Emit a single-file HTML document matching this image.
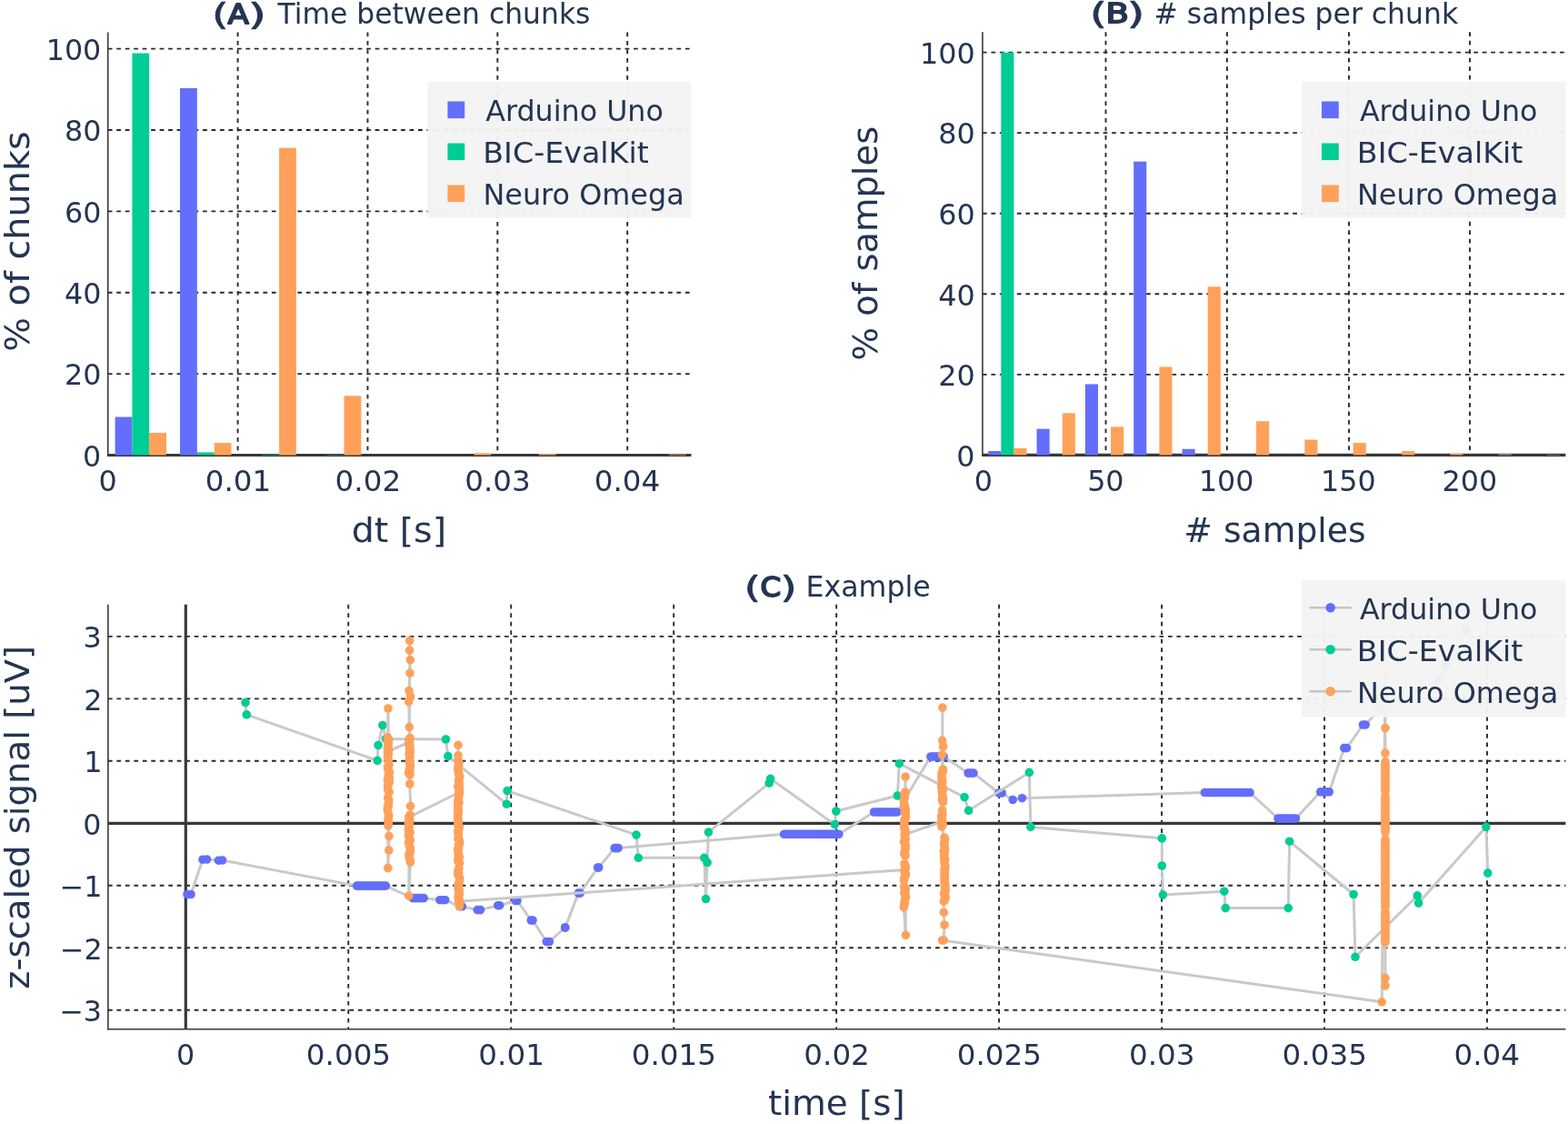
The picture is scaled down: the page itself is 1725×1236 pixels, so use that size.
<!DOCTYPE html>
<html><head><meta charset="utf-8"><title>Figure</title>
<style>html,body{margin:0;padding:0;background:#fff;overflow:hidden}svg{display:block}</style></head>
<body><svg width="1725" height="1236" viewBox="0 0 1725 1236"><defs><clipPath id="clipC"><rect x="118.9" y="664.8" width="1603.5" height="466.9000000000001"/></clipPath></defs>
<rect width="1725" height="1236" fill="#fff"/>
<line x1="261.61" y1="35.50" x2="261.61" y2="500.50" stroke="#2a2a2a" stroke-width="1.9" stroke-dasharray="4.74 4.74"/>
<line x1="404.47" y1="35.50" x2="404.47" y2="500.50" stroke="#2a2a2a" stroke-width="1.9" stroke-dasharray="4.74 4.74"/>
<line x1="547.33" y1="35.50" x2="547.33" y2="500.50" stroke="#2a2a2a" stroke-width="1.9" stroke-dasharray="4.74 4.74"/>
<line x1="690.19" y1="35.50" x2="690.19" y2="500.50" stroke="#2a2a2a" stroke-width="1.9" stroke-dasharray="4.74 4.74"/>
<line x1="118.75" y1="411.12" x2="760.50" y2="411.12" stroke="#2a2a2a" stroke-width="1.9" stroke-dasharray="4.74 4.74"/>
<line x1="118.75" y1="321.74" x2="760.50" y2="321.74" stroke="#2a2a2a" stroke-width="1.9" stroke-dasharray="4.74 4.74"/>
<line x1="118.75" y1="232.36" x2="760.50" y2="232.36" stroke="#2a2a2a" stroke-width="1.9" stroke-dasharray="4.74 4.74"/>
<line x1="118.75" y1="142.98" x2="760.50" y2="142.98" stroke="#2a2a2a" stroke-width="1.9" stroke-dasharray="4.74 4.74"/>
<line x1="118.75" y1="53.60" x2="760.50" y2="53.60" stroke="#2a2a2a" stroke-width="1.9" stroke-dasharray="4.74 4.74"/>
<line x1="118.75" y1="500.50" x2="760.50" y2="500.50" stroke="#383838" stroke-width="3.2"/>
<rect x="126.60" y="458.49" width="18.80" height="42.01" fill="#636efa" />
<rect x="145.40" y="58.52" width="18.80" height="441.98" fill="#00cc96" />
<rect x="164.20" y="475.92" width="18.80" height="24.58" fill="#ffa15a" />
<rect x="198.05" y="96.95" width="18.80" height="403.55" fill="#636efa" />
<rect x="216.85" y="497.37" width="18.80" height="3.13" fill="#00cc96" />
<rect x="235.65" y="487.09" width="18.80" height="13.41" fill="#ffa15a" />
<rect x="288.30" y="499.83" width="18.80" height="0.67" fill="#00cc96" />
<rect x="307.10" y="162.64" width="18.80" height="337.86" fill="#ffa15a" />
<rect x="359.75" y="500.05" width="18.80" height="0.45" fill="#00cc96" />
<rect x="378.55" y="435.25" width="18.80" height="65.25" fill="#ffa15a" />
<rect x="521.45" y="498.27" width="18.80" height="2.23" fill="#ffa15a" />
<rect x="592.90" y="499.16" width="18.80" height="1.34" fill="#ffa15a" />
<rect x="735.80" y="499.61" width="18.80" height="0.89" fill="#ffa15a" />
<line x1="118.75" y1="35.50" x2="118.75" y2="502.00" stroke="#383838" stroke-width="1.6"/>
<line x1="1216.50" y1="35.30" x2="1216.50" y2="500.40" stroke="#2a2a2a" stroke-width="1.9" stroke-dasharray="4.74 4.74"/>
<line x1="1349.90" y1="35.30" x2="1349.90" y2="500.40" stroke="#2a2a2a" stroke-width="1.9" stroke-dasharray="4.74 4.74"/>
<line x1="1484.00" y1="35.30" x2="1484.00" y2="500.40" stroke="#2a2a2a" stroke-width="1.9" stroke-dasharray="4.74 4.74"/>
<line x1="1617.00" y1="35.30" x2="1617.00" y2="500.40" stroke="#2a2a2a" stroke-width="1.9" stroke-dasharray="4.74 4.74"/>
<line x1="1080.90" y1="411.84" x2="1722.40" y2="411.84" stroke="#2a2a2a" stroke-width="1.9" stroke-dasharray="4.74 4.74"/>
<line x1="1080.90" y1="323.28" x2="1722.40" y2="323.28" stroke="#2a2a2a" stroke-width="1.9" stroke-dasharray="4.74 4.74"/>
<line x1="1080.90" y1="234.72" x2="1722.40" y2="234.72" stroke="#2a2a2a" stroke-width="1.9" stroke-dasharray="4.74 4.74"/>
<line x1="1080.90" y1="146.16" x2="1722.40" y2="146.16" stroke="#2a2a2a" stroke-width="1.9" stroke-dasharray="4.74 4.74"/>
<line x1="1080.90" y1="57.60" x2="1722.40" y2="57.60" stroke="#2a2a2a" stroke-width="1.9" stroke-dasharray="4.74 4.74"/>
<line x1="1080.90" y1="500.40" x2="1722.40" y2="500.40" stroke="#383838" stroke-width="3.2"/>
<rect x="1087.20" y="495.97" width="14.10" height="4.43" fill="#636efa" />
<rect x="1101.30" y="57.60" width="14.10" height="442.80" fill="#00cc96" />
<rect x="1115.40" y="492.87" width="14.10" height="7.53" fill="#ffa15a" />
<rect x="1140.53" y="471.62" width="14.10" height="28.78" fill="#636efa" />
<rect x="1168.73" y="454.35" width="14.10" height="46.05" fill="#ffa15a" />
<rect x="1193.86" y="422.47" width="14.10" height="77.93" fill="#636efa" />
<rect x="1222.06" y="469.40" width="14.10" height="31.00" fill="#ffa15a" />
<rect x="1247.19" y="177.60" width="14.10" height="322.80" fill="#636efa" />
<rect x="1275.39" y="403.43" width="14.10" height="96.97" fill="#ffa15a" />
<rect x="1300.52" y="493.76" width="14.10" height="6.64" fill="#636efa" />
<rect x="1328.72" y="315.31" width="14.10" height="185.09" fill="#ffa15a" />
<rect x="1382.05" y="463.20" width="14.10" height="37.20" fill="#ffa15a" />
<rect x="1435.38" y="483.57" width="14.10" height="16.83" fill="#ffa15a" />
<rect x="1488.71" y="487.12" width="14.10" height="13.28" fill="#ffa15a" />
<rect x="1542.04" y="495.97" width="14.10" height="4.43" fill="#ffa15a" />
<rect x="1595.37" y="499.07" width="14.10" height="1.33" fill="#ffa15a" />
<rect x="1648.70" y="499.51" width="14.10" height="0.89" fill="#ffa15a" />
<rect x="1702.03" y="499.96" width="14.10" height="0.44" fill="#ffa15a" />
<line x1="1080.90" y1="35.30" x2="1080.90" y2="501.90" stroke="#383838" stroke-width="1.6"/>
<line x1="383.26" y1="664.80" x2="383.26" y2="1131.70" stroke="#2a2a2a" stroke-width="1.9" stroke-dasharray="4.74 4.74"/>
<line x1="562.23" y1="664.80" x2="562.23" y2="1131.70" stroke="#2a2a2a" stroke-width="1.9" stroke-dasharray="4.74 4.74"/>
<line x1="741.19" y1="664.80" x2="741.19" y2="1131.70" stroke="#2a2a2a" stroke-width="1.9" stroke-dasharray="4.74 4.74"/>
<line x1="920.15" y1="664.80" x2="920.15" y2="1131.70" stroke="#2a2a2a" stroke-width="1.9" stroke-dasharray="4.74 4.74"/>
<line x1="1099.11" y1="664.80" x2="1099.11" y2="1131.70" stroke="#2a2a2a" stroke-width="1.9" stroke-dasharray="4.74 4.74"/>
<line x1="1278.07" y1="664.80" x2="1278.07" y2="1131.70" stroke="#2a2a2a" stroke-width="1.9" stroke-dasharray="4.74 4.74"/>
<line x1="1457.04" y1="664.80" x2="1457.04" y2="1131.70" stroke="#2a2a2a" stroke-width="1.9" stroke-dasharray="4.74 4.74"/>
<line x1="1636.00" y1="664.80" x2="1636.00" y2="1131.70" stroke="#2a2a2a" stroke-width="1.9" stroke-dasharray="4.74 4.74"/>
<line x1="118.90" y1="699.86" x2="1722.40" y2="699.86" stroke="#2a2a2a" stroke-width="1.9" stroke-dasharray="4.74 4.74"/>
<line x1="118.90" y1="768.34" x2="1722.40" y2="768.34" stroke="#2a2a2a" stroke-width="1.9" stroke-dasharray="4.74 4.74"/>
<line x1="118.90" y1="836.82" x2="1722.40" y2="836.82" stroke="#2a2a2a" stroke-width="1.9" stroke-dasharray="4.74 4.74"/>
<line x1="118.90" y1="973.78" x2="1722.40" y2="973.78" stroke="#2a2a2a" stroke-width="1.9" stroke-dasharray="4.74 4.74"/>
<line x1="118.90" y1="1042.26" x2="1722.40" y2="1042.26" stroke="#2a2a2a" stroke-width="1.9" stroke-dasharray="4.74 4.74"/>
<line x1="118.90" y1="1110.74" x2="1722.40" y2="1110.74" stroke="#2a2a2a" stroke-width="1.9" stroke-dasharray="4.74 4.74"/>
<line x1="204.30" y1="664.80" x2="204.30" y2="1131.70" stroke="#383838" stroke-width="3.2"/>
<line x1="118.90" y1="905.30" x2="1722.40" y2="905.30" stroke="#383838" stroke-width="3.2"/>
<g clip-path="url(#clipC)"><path d="M206.0,983.5 L210.0,983.5 L223.0,945.2 L227.5,945.0 L240.5,946.2 L244.5,946.0 L392.5,974.1 L395.0,974.1 L397.4,974.1 L399.9,974.1 L402.3,974.1 L404.8,974.1 L407.2,974.1 L409.7,974.1 L412.1,974.1 L414.6,974.1 L417.0,974.1 L419.5,974.1 L421.9,974.1 L424.4,974.1 L454.0,987.6 L456.4,987.6 L458.9,987.6 L461.3,987.6 L463.8,987.6 L466.2,987.6 L483.9,989.7 L486.8,989.7 L489.7,989.7 L505.8,996.8 L508.3,996.8 L525.2,1000.6 L528.5,1000.6 L547.8,995.7 L549.6,995.7 L567.3,990.5 L569.0,990.5 L584.3,1012.0 L586.0,1012.0 L601.3,1035.5 L604.3,1035.5 L621.7,1020.0 L621.8,1020.0 L636.3,982.1 L638.3,982.1 L657.6,954.0 L658.7,954.0 L676.1,932.6 L678.1,932.6 L680.1,932.6 L862.5,917.3 L865.0,917.3 L867.5,917.3 L870.0,917.3 L872.5,917.3 L875.1,917.3 L877.6,917.3 L880.1,917.3 L882.6,917.3 L885.1,917.3 L887.6,917.3 L890.1,917.3 L892.7,917.3 L895.2,917.3 L897.7,917.3 L900.2,917.3 L902.7,917.3 L905.2,917.3 L907.7,917.3 L910.2,917.3 L912.8,917.3 L915.3,917.3 L917.8,917.3 L920.3,917.3 L922.8,917.3 L961.5,893.0 L964.0,893.0 L966.6,893.0 L969.1,893.0 L971.7,893.0 L974.2,893.0 L976.7,893.0 L979.3,893.0 L981.8,893.0 L984.4,893.0 L986.9,893.0 L1023.9,832.0 L1026.3,832.0 L1028.6,832.0 L1031.0,832.0 L1033.4,832.0 L1035.7,832.0 L1038.1,832.0 L1065.1,850.1 L1068.0,850.1 L1071.0,850.1 L1098.8,872.0 L1102.2,872.0 L1114.2,879.5 L1124.4,877.7 L1325.4,871.5 L1327.9,871.5 L1330.4,871.5 L1332.8,871.5 L1335.3,871.5 L1337.8,871.5 L1340.3,871.5 L1342.8,871.5 L1345.2,871.5 L1347.7,871.5 L1350.2,871.5 L1352.7,871.5 L1355.2,871.5 L1357.6,871.5 L1360.1,871.5 L1362.6,871.5 L1365.1,871.5 L1367.6,871.5 L1370.0,871.5 L1372.5,871.5 L1375.0,871.5 L1406.0,900.0 L1408.4,900.0 L1410.9,900.0 L1413.3,900.0 L1415.8,900.0 L1418.2,900.0 L1420.6,900.0 L1423.1,900.0 L1425.5,900.0 L1452.7,870.8 L1455.1,870.8 L1457.5,870.8 L1459.9,870.8 L1462.3,870.8 L1478.8,822.6 L1481.6,822.6 L1499.4,797.0 L1502.2,797.0 L1517.8,779.5 L1521.2,779.5 L1583.0,747.0 L1591.0,731.0 L1612.5,693.0" fill="none" stroke="#c9c9c9" stroke-width="3.0" stroke-linejoin="round"/><g fill="#636efa"><circle cx="206.0" cy="983.5" r="4.8"/><circle cx="210.0" cy="983.5" r="4.8"/><circle cx="223.0" cy="945.2" r="4.8"/><circle cx="227.5" cy="945.0" r="4.8"/><circle cx="240.5" cy="946.2" r="4.8"/><circle cx="244.5" cy="946.0" r="4.8"/><circle cx="392.5" cy="974.1" r="4.8"/><circle cx="395.0" cy="974.1" r="4.8"/><circle cx="397.4" cy="974.1" r="4.8"/><circle cx="399.9" cy="974.1" r="4.8"/><circle cx="402.3" cy="974.1" r="4.8"/><circle cx="404.8" cy="974.1" r="4.8"/><circle cx="407.2" cy="974.1" r="4.8"/><circle cx="409.7" cy="974.1" r="4.8"/><circle cx="412.1" cy="974.1" r="4.8"/><circle cx="414.6" cy="974.1" r="4.8"/><circle cx="417.0" cy="974.1" r="4.8"/><circle cx="419.5" cy="974.1" r="4.8"/><circle cx="421.9" cy="974.1" r="4.8"/><circle cx="424.4" cy="974.1" r="4.8"/><circle cx="454.0" cy="987.6" r="4.8"/><circle cx="456.4" cy="987.6" r="4.8"/><circle cx="458.9" cy="987.6" r="4.8"/><circle cx="461.3" cy="987.6" r="4.8"/><circle cx="463.8" cy="987.6" r="4.8"/><circle cx="466.2" cy="987.6" r="4.8"/><circle cx="483.9" cy="989.7" r="4.8"/><circle cx="486.8" cy="989.7" r="4.8"/><circle cx="489.7" cy="989.7" r="4.8"/><circle cx="505.8" cy="996.8" r="4.8"/><circle cx="508.3" cy="996.8" r="4.8"/><circle cx="525.2" cy="1000.6" r="4.8"/><circle cx="528.5" cy="1000.6" r="4.8"/><circle cx="547.8" cy="995.7" r="4.8"/><circle cx="549.6" cy="995.7" r="4.8"/><circle cx="567.3" cy="990.5" r="4.8"/><circle cx="569.0" cy="990.5" r="4.8"/><circle cx="584.3" cy="1012.0" r="4.8"/><circle cx="586.0" cy="1012.0" r="4.8"/><circle cx="601.3" cy="1035.5" r="4.8"/><circle cx="604.3" cy="1035.5" r="4.8"/><circle cx="621.7" cy="1020.0" r="4.8"/><circle cx="621.8" cy="1020.0" r="4.8"/><circle cx="636.3" cy="982.1" r="4.8"/><circle cx="638.3" cy="982.1" r="4.8"/><circle cx="657.6" cy="954.0" r="4.8"/><circle cx="658.7" cy="954.0" r="4.8"/><circle cx="676.1" cy="932.6" r="4.8"/><circle cx="678.1" cy="932.6" r="4.8"/><circle cx="680.1" cy="932.6" r="4.8"/><circle cx="862.5" cy="917.3" r="4.8"/><circle cx="865.0" cy="917.3" r="4.8"/><circle cx="867.5" cy="917.3" r="4.8"/><circle cx="870.0" cy="917.3" r="4.8"/><circle cx="872.5" cy="917.3" r="4.8"/><circle cx="875.1" cy="917.3" r="4.8"/><circle cx="877.6" cy="917.3" r="4.8"/><circle cx="880.1" cy="917.3" r="4.8"/><circle cx="882.6" cy="917.3" r="4.8"/><circle cx="885.1" cy="917.3" r="4.8"/><circle cx="887.6" cy="917.3" r="4.8"/><circle cx="890.1" cy="917.3" r="4.8"/><circle cx="892.7" cy="917.3" r="4.8"/><circle cx="895.2" cy="917.3" r="4.8"/><circle cx="897.7" cy="917.3" r="4.8"/><circle cx="900.2" cy="917.3" r="4.8"/><circle cx="902.7" cy="917.3" r="4.8"/><circle cx="905.2" cy="917.3" r="4.8"/><circle cx="907.7" cy="917.3" r="4.8"/><circle cx="910.2" cy="917.3" r="4.8"/><circle cx="912.8" cy="917.3" r="4.8"/><circle cx="915.3" cy="917.3" r="4.8"/><circle cx="917.8" cy="917.3" r="4.8"/><circle cx="920.3" cy="917.3" r="4.8"/><circle cx="922.8" cy="917.3" r="4.8"/><circle cx="961.5" cy="893.0" r="4.8"/><circle cx="964.0" cy="893.0" r="4.8"/><circle cx="966.6" cy="893.0" r="4.8"/><circle cx="969.1" cy="893.0" r="4.8"/><circle cx="971.7" cy="893.0" r="4.8"/><circle cx="974.2" cy="893.0" r="4.8"/><circle cx="976.7" cy="893.0" r="4.8"/><circle cx="979.3" cy="893.0" r="4.8"/><circle cx="981.8" cy="893.0" r="4.8"/><circle cx="984.4" cy="893.0" r="4.8"/><circle cx="986.9" cy="893.0" r="4.8"/><circle cx="1023.9" cy="832.0" r="4.8"/><circle cx="1026.3" cy="832.0" r="4.8"/><circle cx="1028.6" cy="832.0" r="4.8"/><circle cx="1031.0" cy="832.0" r="4.8"/><circle cx="1033.4" cy="832.0" r="4.8"/><circle cx="1035.7" cy="832.0" r="4.8"/><circle cx="1038.1" cy="832.0" r="4.8"/><circle cx="1065.1" cy="850.1" r="4.8"/><circle cx="1068.0" cy="850.1" r="4.8"/><circle cx="1071.0" cy="850.1" r="4.8"/><circle cx="1098.8" cy="872.0" r="4.8"/><circle cx="1102.2" cy="872.0" r="4.8"/><circle cx="1114.2" cy="879.5" r="4.8"/><circle cx="1124.4" cy="877.7" r="4.8"/><circle cx="1325.4" cy="871.5" r="4.8"/><circle cx="1327.9" cy="871.5" r="4.8"/><circle cx="1330.4" cy="871.5" r="4.8"/><circle cx="1332.8" cy="871.5" r="4.8"/><circle cx="1335.3" cy="871.5" r="4.8"/><circle cx="1337.8" cy="871.5" r="4.8"/><circle cx="1340.3" cy="871.5" r="4.8"/><circle cx="1342.8" cy="871.5" r="4.8"/><circle cx="1345.2" cy="871.5" r="4.8"/><circle cx="1347.7" cy="871.5" r="4.8"/><circle cx="1350.2" cy="871.5" r="4.8"/><circle cx="1352.7" cy="871.5" r="4.8"/><circle cx="1355.2" cy="871.5" r="4.8"/><circle cx="1357.6" cy="871.5" r="4.8"/><circle cx="1360.1" cy="871.5" r="4.8"/><circle cx="1362.6" cy="871.5" r="4.8"/><circle cx="1365.1" cy="871.5" r="4.8"/><circle cx="1367.6" cy="871.5" r="4.8"/><circle cx="1370.0" cy="871.5" r="4.8"/><circle cx="1372.5" cy="871.5" r="4.8"/><circle cx="1375.0" cy="871.5" r="4.8"/><circle cx="1406.0" cy="900.0" r="4.8"/><circle cx="1408.4" cy="900.0" r="4.8"/><circle cx="1410.9" cy="900.0" r="4.8"/><circle cx="1413.3" cy="900.0" r="4.8"/><circle cx="1415.8" cy="900.0" r="4.8"/><circle cx="1418.2" cy="900.0" r="4.8"/><circle cx="1420.6" cy="900.0" r="4.8"/><circle cx="1423.1" cy="900.0" r="4.8"/><circle cx="1425.5" cy="900.0" r="4.8"/><circle cx="1452.7" cy="870.8" r="4.8"/><circle cx="1455.1" cy="870.8" r="4.8"/><circle cx="1457.5" cy="870.8" r="4.8"/><circle cx="1459.9" cy="870.8" r="4.8"/><circle cx="1462.3" cy="870.8" r="4.8"/><circle cx="1478.8" cy="822.6" r="4.8"/><circle cx="1481.6" cy="822.6" r="4.8"/><circle cx="1499.4" cy="797.0" r="4.8"/><circle cx="1502.2" cy="797.0" r="4.8"/><circle cx="1517.8" cy="779.5" r="4.8"/><circle cx="1521.2" cy="779.5" r="4.8"/><circle cx="1583.0" cy="747.0" r="4.8"/><circle cx="1591.0" cy="731.0" r="4.8"/><circle cx="1612.5" cy="693.0" r="4.8"/></g><path d="M270.0,772.5 L271.3,785.9 L415.2,836.4 L416.1,819.5 L420.9,797.6 L424.5,812.5 L490.5,813.0 L492.9,831.6 L557.3,884.2 L558.1,869.6 L700.0,918.1 L702.3,943.3 L774.8,943.3 L776.5,988.5 L778.1,948.5 L779.4,915.1 L846.2,861.2 L847.6,856.3 L918.3,906.6 L919.8,892.0 L987.4,875.0 L989.3,839.7 L1061.0,876.6 L1065.6,891.3 L1132.3,849.4 L1133.9,909.4 L1278.3,921.9 L1278.3,952.0 L1279.4,984.1 L1346.8,980.2 L1348.2,998.6 L1417.3,998.6 L1418.6,925.2 L1489.1,983.5 L1491.0,1052.3 L1559.3,984.9 L1560.6,993.1 L1634.9,909.3 L1636.8,960.1" fill="none" stroke="#c9c9c9" stroke-width="3.0" stroke-linejoin="round"/><g fill="#00cc96"><circle cx="270.0" cy="772.5" r="4.8"/><circle cx="271.3" cy="785.9" r="4.8"/><circle cx="415.2" cy="836.4" r="4.8"/><circle cx="416.1" cy="819.5" r="4.8"/><circle cx="420.9" cy="797.6" r="4.8"/><circle cx="424.5" cy="812.5" r="4.8"/><circle cx="490.5" cy="813.0" r="4.8"/><circle cx="492.9" cy="831.6" r="4.8"/><circle cx="557.3" cy="884.2" r="4.8"/><circle cx="558.1" cy="869.6" r="4.8"/><circle cx="700.0" cy="918.1" r="4.8"/><circle cx="702.3" cy="943.3" r="4.8"/><circle cx="774.8" cy="943.3" r="4.8"/><circle cx="776.5" cy="988.5" r="4.8"/><circle cx="778.1" cy="948.5" r="4.8"/><circle cx="779.4" cy="915.1" r="4.8"/><circle cx="846.2" cy="861.2" r="4.8"/><circle cx="847.6" cy="856.3" r="4.8"/><circle cx="918.3" cy="906.6" r="4.8"/><circle cx="919.8" cy="892.0" r="4.8"/><circle cx="987.4" cy="875.0" r="4.8"/><circle cx="989.3" cy="839.7" r="4.8"/><circle cx="1061.0" cy="876.6" r="4.8"/><circle cx="1065.6" cy="891.3" r="4.8"/><circle cx="1132.3" cy="849.4" r="4.8"/><circle cx="1133.9" cy="909.4" r="4.8"/><circle cx="1278.3" cy="921.9" r="4.8"/><circle cx="1278.3" cy="952.0" r="4.8"/><circle cx="1279.4" cy="984.1" r="4.8"/><circle cx="1346.8" cy="980.2" r="4.8"/><circle cx="1348.2" cy="998.6" r="4.8"/><circle cx="1417.3" cy="998.6" r="4.8"/><circle cx="1418.6" cy="925.2" r="4.8"/><circle cx="1489.1" cy="983.5" r="4.8"/><circle cx="1491.0" cy="1052.3" r="4.8"/><circle cx="1559.3" cy="984.9" r="4.8"/><circle cx="1560.6" cy="993.1" r="4.8"/><circle cx="1634.9" cy="909.3" r="4.8"/><circle cx="1636.8" cy="960.1" r="4.8"/></g><path d="M427.4,826.0 L427.0,779.0 L426.6,811.0 L427.7,813.3 L426.5,815.5 L427.5,817.8 L427.1,820.1 L426.4,822.4 L427.4,824.6 L426.4,826.9 L427.3,829.2 L426.5,831.5 L426.5,833.7 L427.2,836.0 L428.1,841.0 L426.6,843.1 L426.8,845.3 L427.7,847.4 L428.4,849.6 L427.6,851.7 L427.2,853.9 L428.4,856.0 L426.4,858.1 L428.2,860.3 L426.9,862.4 L426.6,864.6 L426.6,866.7 L427.0,868.9 L428.1,871.0 L426.7,877.0 L427.6,879.3 L427.7,881.6 L427.1,883.9 L427.5,886.1 L426.4,888.4 L426.4,890.7 L426.8,893.0 L427.8,897.0 L427.2,899.2 L427.0,901.4 L427.6,903.6 L427.3,905.8 L427.0,908.0 L428.0,919.6 L427.8,935.0 L426.8,954.5 L427.4,826.0 L450.5,816.0 L450.7,704.6 L450.6,715.1 L451.3,725.6 L451.0,740.2 L450.0,759.6 L451.6,766.0 L449.7,771.7 L450.3,799.5 L451.1,811.5 L449.7,813.8 L450.5,816.0 L449.5,818.2 L450.9,820.5 L451.1,822.8 L450.7,825.0 L451.3,827.2 L450.1,829.5 L450.9,831.8 L450.7,834.0 L450.7,836.2 L450.4,838.5 L451.2,840.8 L451.5,843.0 L450.4,845.2 L450.9,847.5 L449.5,849.8 L450.9,852.0 L450.8,862.0 L451.6,886.5 L451.2,896.0 L450.0,898.2 L450.2,900.3 L450.9,902.5 L449.4,904.7 L450.4,906.8 L449.8,909.0 L449.7,911.2 L449.5,913.3 L451.1,915.5 L449.7,917.7 L449.9,919.8 L450.3,922.0 L451.3,924.2 L449.6,926.3 L450.4,928.5 L450.6,930.7 L451.3,932.8 L451.2,935.0 L451.3,937.2 L450.0,939.3 L450.3,941.5 L450.2,943.7 L451.3,945.8 L451.5,948.0 L449.7,985.2 L450.5,898.4 L504.7,871.5 L504.0,819.4 L504.1,830.8 L504.1,836.0 L504.7,838.2 L504.9,840.4 L504.2,842.6 L503.6,844.9 L504.5,847.1 L504.4,849.3 L504.8,851.5 L505.7,853.7 L505.1,855.9 L504.7,858.2 L505.0,860.4 L505.1,862.6 L503.7,864.8 L505.6,867.0 L505.3,869.2 L505.5,871.5 L505.4,873.7 L504.5,875.9 L504.5,878.1 L503.8,880.3 L505.0,882.5 L503.7,884.7 L503.7,887.0 L504.1,889.2 L504.0,891.4 L504.3,893.6 L503.7,895.8 L503.6,898.0 L503.9,900.3 L503.8,902.5 L504.4,904.7 L503.7,906.9 L505.5,909.1 L505.0,911.3 L503.9,913.5 L504.2,915.8 L504.4,918.0 L504.4,920.2 L503.9,922.4 L505.5,924.6 L505.8,926.8 L504.6,929.1 L504.7,931.3 L503.8,933.5 L503.8,935.7 L504.4,937.9 L504.2,940.1 L505.4,942.4 L504.0,944.6 L503.7,946.8 L505.7,949.0 L504.8,955.0 L503.9,957.2 L504.8,959.4 L503.7,961.6 L504.8,963.7 L505.8,965.9 L505.5,968.1 L505.1,970.3 L504.2,972.5 L504.4,974.7 L504.0,976.8 L505.3,979.0 L504.8,981.2 L505.3,983.4 L504.3,985.6 L504.1,987.8 L505.4,989.9 L505.8,992.1 L505.5,994.3 L505.4,996.5 L504.7,991.3 L995.4,956.5 L996.1,854.0 L995.9,871.0 L994.8,873.2 L995.4,875.4 L995.1,877.6 L994.4,879.8 L994.4,881.9 L994.9,884.1 L994.9,886.3 L995.8,888.5 L996.4,890.7 L995.3,892.9 L996.4,895.1 L996.5,897.2 L996.4,899.4 L995.1,901.6 L994.8,903.8 L994.8,906.0 L994.7,908.2 L994.7,910.4 L995.7,912.6 L996.3,914.8 L996.1,916.9 L995.4,919.1 L995.7,921.3 L996.1,923.5 L994.5,925.7 L995.8,927.9 L996.3,930.1 L996.0,932.2 L996.0,934.4 L995.4,936.6 L994.7,938.8 L996.0,941.0 L995.0,950.0 L996.1,952.2 L996.4,954.5 L995.2,956.8 L995.2,959.0 L996.4,961.2 L995.9,963.5 L994.7,965.8 L994.6,968.0 L994.6,975.0 L996.3,977.3 L996.1,979.5 L994.6,981.8 L996.1,984.1 L996.5,986.4 L995.7,988.6 L995.1,990.9 L995.5,993.2 L994.6,995.4 L994.3,997.7 L996.4,1028.3 L995.4,917.7 L1036.6,903.5 L1036.9,778.1 L1036.7,814.3 L1037.6,821.0 L1036.5,830.0 L1037.4,846.0 L1037.3,848.2 L1036.0,850.5 L1036.1,852.8 L1036.1,855.0 L1036.0,857.2 L1036.8,859.5 L1036.1,861.8 L1036.4,864.0 L1035.8,866.2 L1037.5,868.5 L1036.3,870.8 L1036.5,873.0 L1036.8,875.2 L1037.5,877.5 L1036.4,879.8 L1037.5,882.0 L1036.6,891.0 L1036.7,893.2 L1036.7,895.5 L1035.5,897.8 L1036.5,900.0 L1035.9,902.2 L1035.5,904.5 L1037.3,906.8 L1035.9,909.0 L1039.0,921.0 L1039.6,923.2 L1039.2,925.4 L1038.7,927.6 L1039.1,929.8 L1039.2,931.9 L1039.7,934.1 L1038.2,936.3 L1039.2,938.5 L1038.5,940.7 L1038.6,942.9 L1039.7,945.1 L1039.1,947.2 L1039.2,949.4 L1039.7,951.6 L1040.0,953.8 L1039.0,956.0 L1039.3,958.2 L1039.1,960.4 L1039.1,962.6 L1039.5,964.8 L1039.0,966.9 L1039.2,969.1 L1039.1,971.3 L1040.1,973.5 L1039.5,975.7 L1039.9,977.9 L1040.1,980.1 L1038.6,982.2 L1039.2,984.4 L1040.1,986.6 L1039.8,988.8 L1038.3,991.0 L1038.3,1003.4 L1039.0,1017.0 L1038.2,1034.0 L1036.6,1034.0 L1520.2,1101.8 L1524.0,742.0 L1524.0,781.0 L1524.0,800.6 L1524.0,828.1 L1524.0,837.8 L1524.0,840.0 L1524.0,842.2 L1524.0,844.4 L1524.0,846.6 L1524.0,848.8 L1524.0,851.0 L1524.0,853.2 L1524.0,855.4 L1524.0,857.6 L1524.0,859.8 L1524.0,862.0 L1524.0,864.2 L1524.0,866.4 L1524.0,868.6 L1524.0,870.8 L1524.0,876.0 L1524.0,878.2 L1524.0,880.3 L1524.0,882.5 L1524.0,884.6 L1524.0,886.8 L1524.0,888.9 L1524.0,891.1 L1524.0,893.2 L1524.0,895.4 L1524.0,897.6 L1524.0,899.7 L1524.0,901.9 L1524.0,904.0 L1524.0,906.2 L1524.0,908.3 L1524.0,910.5 L1524.0,912.6 L1524.0,914.8 L1524.0,923.0 L1524.0,925.2 L1524.0,927.4 L1524.0,929.5 L1524.0,931.7 L1524.0,933.9 L1524.0,936.1 L1524.0,938.2 L1524.0,940.4 L1524.0,942.6 L1524.0,944.8 L1524.0,946.9 L1524.0,949.1 L1524.0,951.3 L1524.0,953.5 L1524.0,955.6 L1524.0,957.8 L1524.0,960.0 L1524.0,962.2 L1524.0,964.4 L1524.0,966.5 L1524.0,968.7 L1524.0,970.9 L1524.0,973.1 L1524.0,975.2 L1524.0,977.4 L1524.0,979.6 L1524.0,981.8 L1524.0,983.9 L1524.0,986.1 L1524.0,988.3 L1524.0,990.5 L1524.0,992.6 L1524.0,994.8 L1524.0,997.0 L1524.0,1002.8 L1524.0,1005.0 L1524.0,1007.2 L1524.0,1009.4 L1524.0,1011.6 L1524.0,1013.8 L1524.0,1016.0 L1524.0,1018.2 L1524.0,1020.4 L1524.0,1022.6 L1524.0,1024.8 L1524.0,1027.0 L1524.0,1029.2 L1524.0,1031.4 L1524.0,1033.6 L1524.0,1035.8 L1524.0,1075.6 L1524.0,1084.0" fill="none" stroke="#c9c9c9" stroke-width="3.0" stroke-linejoin="round"/><g fill="#ffa15a"><circle cx="427.4" cy="826.0" r="4.8"/><circle cx="427.0" cy="779.0" r="4.8"/><circle cx="426.6" cy="811.0" r="4.8"/><circle cx="427.7" cy="813.3" r="4.8"/><circle cx="426.5" cy="815.5" r="4.8"/><circle cx="427.5" cy="817.8" r="4.8"/><circle cx="427.1" cy="820.1" r="4.8"/><circle cx="426.4" cy="822.4" r="4.8"/><circle cx="427.4" cy="824.6" r="4.8"/><circle cx="426.4" cy="826.9" r="4.8"/><circle cx="427.3" cy="829.2" r="4.8"/><circle cx="426.5" cy="831.5" r="4.8"/><circle cx="426.5" cy="833.7" r="4.8"/><circle cx="427.2" cy="836.0" r="4.8"/><circle cx="428.1" cy="841.0" r="4.8"/><circle cx="426.6" cy="843.1" r="4.8"/><circle cx="426.8" cy="845.3" r="4.8"/><circle cx="427.7" cy="847.4" r="4.8"/><circle cx="428.4" cy="849.6" r="4.8"/><circle cx="427.6" cy="851.7" r="4.8"/><circle cx="427.2" cy="853.9" r="4.8"/><circle cx="428.4" cy="856.0" r="4.8"/><circle cx="426.4" cy="858.1" r="4.8"/><circle cx="428.2" cy="860.3" r="4.8"/><circle cx="426.9" cy="862.4" r="4.8"/><circle cx="426.6" cy="864.6" r="4.8"/><circle cx="426.6" cy="866.7" r="4.8"/><circle cx="427.0" cy="868.9" r="4.8"/><circle cx="428.1" cy="871.0" r="4.8"/><circle cx="426.7" cy="877.0" r="4.8"/><circle cx="427.6" cy="879.3" r="4.8"/><circle cx="427.7" cy="881.6" r="4.8"/><circle cx="427.1" cy="883.9" r="4.8"/><circle cx="427.5" cy="886.1" r="4.8"/><circle cx="426.4" cy="888.4" r="4.8"/><circle cx="426.4" cy="890.7" r="4.8"/><circle cx="426.8" cy="893.0" r="4.8"/><circle cx="427.8" cy="897.0" r="4.8"/><circle cx="427.2" cy="899.2" r="4.8"/><circle cx="427.0" cy="901.4" r="4.8"/><circle cx="427.6" cy="903.6" r="4.8"/><circle cx="427.3" cy="905.8" r="4.8"/><circle cx="427.0" cy="908.0" r="4.8"/><circle cx="428.0" cy="919.6" r="4.8"/><circle cx="427.8" cy="935.0" r="4.8"/><circle cx="426.8" cy="954.5" r="4.8"/><circle cx="427.4" cy="826.0" r="4.8"/><circle cx="450.5" cy="816.0" r="4.8"/><circle cx="450.7" cy="704.6" r="4.8"/><circle cx="450.6" cy="715.1" r="4.8"/><circle cx="451.3" cy="725.6" r="4.8"/><circle cx="451.0" cy="740.2" r="4.8"/><circle cx="450.0" cy="759.6" r="4.8"/><circle cx="451.6" cy="766.0" r="4.8"/><circle cx="449.7" cy="771.7" r="4.8"/><circle cx="450.3" cy="799.5" r="4.8"/><circle cx="451.1" cy="811.5" r="4.8"/><circle cx="449.7" cy="813.8" r="4.8"/><circle cx="450.5" cy="816.0" r="4.8"/><circle cx="449.5" cy="818.2" r="4.8"/><circle cx="450.9" cy="820.5" r="4.8"/><circle cx="451.1" cy="822.8" r="4.8"/><circle cx="450.7" cy="825.0" r="4.8"/><circle cx="451.3" cy="827.2" r="4.8"/><circle cx="450.1" cy="829.5" r="4.8"/><circle cx="450.9" cy="831.8" r="4.8"/><circle cx="450.7" cy="834.0" r="4.8"/><circle cx="450.7" cy="836.2" r="4.8"/><circle cx="450.4" cy="838.5" r="4.8"/><circle cx="451.2" cy="840.8" r="4.8"/><circle cx="451.5" cy="843.0" r="4.8"/><circle cx="450.4" cy="845.2" r="4.8"/><circle cx="450.9" cy="847.5" r="4.8"/><circle cx="449.5" cy="849.8" r="4.8"/><circle cx="450.9" cy="852.0" r="4.8"/><circle cx="450.8" cy="862.0" r="4.8"/><circle cx="451.6" cy="886.5" r="4.8"/><circle cx="451.2" cy="896.0" r="4.8"/><circle cx="450.0" cy="898.2" r="4.8"/><circle cx="450.2" cy="900.3" r="4.8"/><circle cx="450.9" cy="902.5" r="4.8"/><circle cx="449.4" cy="904.7" r="4.8"/><circle cx="450.4" cy="906.8" r="4.8"/><circle cx="449.8" cy="909.0" r="4.8"/><circle cx="449.7" cy="911.2" r="4.8"/><circle cx="449.5" cy="913.3" r="4.8"/><circle cx="451.1" cy="915.5" r="4.8"/><circle cx="449.7" cy="917.7" r="4.8"/><circle cx="449.9" cy="919.8" r="4.8"/><circle cx="450.3" cy="922.0" r="4.8"/><circle cx="451.3" cy="924.2" r="4.8"/><circle cx="449.6" cy="926.3" r="4.8"/><circle cx="450.4" cy="928.5" r="4.8"/><circle cx="450.6" cy="930.7" r="4.8"/><circle cx="451.3" cy="932.8" r="4.8"/><circle cx="451.2" cy="935.0" r="4.8"/><circle cx="451.3" cy="937.2" r="4.8"/><circle cx="450.0" cy="939.3" r="4.8"/><circle cx="450.3" cy="941.5" r="4.8"/><circle cx="450.2" cy="943.7" r="4.8"/><circle cx="451.3" cy="945.8" r="4.8"/><circle cx="451.5" cy="948.0" r="4.8"/><circle cx="449.7" cy="985.2" r="4.8"/><circle cx="450.5" cy="898.4" r="4.8"/><circle cx="504.7" cy="871.5" r="4.8"/><circle cx="504.0" cy="819.4" r="4.8"/><circle cx="504.1" cy="830.8" r="4.8"/><circle cx="504.1" cy="836.0" r="4.8"/><circle cx="504.7" cy="838.2" r="4.8"/><circle cx="504.9" cy="840.4" r="4.8"/><circle cx="504.2" cy="842.6" r="4.8"/><circle cx="503.6" cy="844.9" r="4.8"/><circle cx="504.5" cy="847.1" r="4.8"/><circle cx="504.4" cy="849.3" r="4.8"/><circle cx="504.8" cy="851.5" r="4.8"/><circle cx="505.7" cy="853.7" r="4.8"/><circle cx="505.1" cy="855.9" r="4.8"/><circle cx="504.7" cy="858.2" r="4.8"/><circle cx="505.0" cy="860.4" r="4.8"/><circle cx="505.1" cy="862.6" r="4.8"/><circle cx="503.7" cy="864.8" r="4.8"/><circle cx="505.6" cy="867.0" r="4.8"/><circle cx="505.3" cy="869.2" r="4.8"/><circle cx="505.5" cy="871.5" r="4.8"/><circle cx="505.4" cy="873.7" r="4.8"/><circle cx="504.5" cy="875.9" r="4.8"/><circle cx="504.5" cy="878.1" r="4.8"/><circle cx="503.8" cy="880.3" r="4.8"/><circle cx="505.0" cy="882.5" r="4.8"/><circle cx="503.7" cy="884.7" r="4.8"/><circle cx="503.7" cy="887.0" r="4.8"/><circle cx="504.1" cy="889.2" r="4.8"/><circle cx="504.0" cy="891.4" r="4.8"/><circle cx="504.3" cy="893.6" r="4.8"/><circle cx="503.7" cy="895.8" r="4.8"/><circle cx="503.6" cy="898.0" r="4.8"/><circle cx="503.9" cy="900.3" r="4.8"/><circle cx="503.8" cy="902.5" r="4.8"/><circle cx="504.4" cy="904.7" r="4.8"/><circle cx="503.7" cy="906.9" r="4.8"/><circle cx="505.5" cy="909.1" r="4.8"/><circle cx="505.0" cy="911.3" r="4.8"/><circle cx="503.9" cy="913.5" r="4.8"/><circle cx="504.2" cy="915.8" r="4.8"/><circle cx="504.4" cy="918.0" r="4.8"/><circle cx="504.4" cy="920.2" r="4.8"/><circle cx="503.9" cy="922.4" r="4.8"/><circle cx="505.5" cy="924.6" r="4.8"/><circle cx="505.8" cy="926.8" r="4.8"/><circle cx="504.6" cy="929.1" r="4.8"/><circle cx="504.7" cy="931.3" r="4.8"/><circle cx="503.8" cy="933.5" r="4.8"/><circle cx="503.8" cy="935.7" r="4.8"/><circle cx="504.4" cy="937.9" r="4.8"/><circle cx="504.2" cy="940.1" r="4.8"/><circle cx="505.4" cy="942.4" r="4.8"/><circle cx="504.0" cy="944.6" r="4.8"/><circle cx="503.7" cy="946.8" r="4.8"/><circle cx="505.7" cy="949.0" r="4.8"/><circle cx="504.8" cy="955.0" r="4.8"/><circle cx="503.9" cy="957.2" r="4.8"/><circle cx="504.8" cy="959.4" r="4.8"/><circle cx="503.7" cy="961.6" r="4.8"/><circle cx="504.8" cy="963.7" r="4.8"/><circle cx="505.8" cy="965.9" r="4.8"/><circle cx="505.5" cy="968.1" r="4.8"/><circle cx="505.1" cy="970.3" r="4.8"/><circle cx="504.2" cy="972.5" r="4.8"/><circle cx="504.4" cy="974.7" r="4.8"/><circle cx="504.0" cy="976.8" r="4.8"/><circle cx="505.3" cy="979.0" r="4.8"/><circle cx="504.8" cy="981.2" r="4.8"/><circle cx="505.3" cy="983.4" r="4.8"/><circle cx="504.3" cy="985.6" r="4.8"/><circle cx="504.1" cy="987.8" r="4.8"/><circle cx="505.4" cy="989.9" r="4.8"/><circle cx="505.8" cy="992.1" r="4.8"/><circle cx="505.5" cy="994.3" r="4.8"/><circle cx="505.4" cy="996.5" r="4.8"/><circle cx="504.7" cy="991.3" r="4.8"/><circle cx="995.4" cy="956.5" r="4.8"/><circle cx="996.1" cy="854.0" r="4.8"/><circle cx="995.9" cy="871.0" r="4.8"/><circle cx="994.8" cy="873.2" r="4.8"/><circle cx="995.4" cy="875.4" r="4.8"/><circle cx="995.1" cy="877.6" r="4.8"/><circle cx="994.4" cy="879.8" r="4.8"/><circle cx="994.4" cy="881.9" r="4.8"/><circle cx="994.9" cy="884.1" r="4.8"/><circle cx="994.9" cy="886.3" r="4.8"/><circle cx="995.8" cy="888.5" r="4.8"/><circle cx="996.4" cy="890.7" r="4.8"/><circle cx="995.3" cy="892.9" r="4.8"/><circle cx="996.4" cy="895.1" r="4.8"/><circle cx="996.5" cy="897.2" r="4.8"/><circle cx="996.4" cy="899.4" r="4.8"/><circle cx="995.1" cy="901.6" r="4.8"/><circle cx="994.8" cy="903.8" r="4.8"/><circle cx="994.8" cy="906.0" r="4.8"/><circle cx="994.7" cy="908.2" r="4.8"/><circle cx="994.7" cy="910.4" r="4.8"/><circle cx="995.7" cy="912.6" r="4.8"/><circle cx="996.3" cy="914.8" r="4.8"/><circle cx="996.1" cy="916.9" r="4.8"/><circle cx="995.4" cy="919.1" r="4.8"/><circle cx="995.7" cy="921.3" r="4.8"/><circle cx="996.1" cy="923.5" r="4.8"/><circle cx="994.5" cy="925.7" r="4.8"/><circle cx="995.8" cy="927.9" r="4.8"/><circle cx="996.3" cy="930.1" r="4.8"/><circle cx="996.0" cy="932.2" r="4.8"/><circle cx="996.0" cy="934.4" r="4.8"/><circle cx="995.4" cy="936.6" r="4.8"/><circle cx="994.7" cy="938.8" r="4.8"/><circle cx="996.0" cy="941.0" r="4.8"/><circle cx="995.0" cy="950.0" r="4.8"/><circle cx="996.1" cy="952.2" r="4.8"/><circle cx="996.4" cy="954.5" r="4.8"/><circle cx="995.2" cy="956.8" r="4.8"/><circle cx="995.2" cy="959.0" r="4.8"/><circle cx="996.4" cy="961.2" r="4.8"/><circle cx="995.9" cy="963.5" r="4.8"/><circle cx="994.7" cy="965.8" r="4.8"/><circle cx="994.6" cy="968.0" r="4.8"/><circle cx="994.6" cy="975.0" r="4.8"/><circle cx="996.3" cy="977.3" r="4.8"/><circle cx="996.1" cy="979.5" r="4.8"/><circle cx="994.6" cy="981.8" r="4.8"/><circle cx="996.1" cy="984.1" r="4.8"/><circle cx="996.5" cy="986.4" r="4.8"/><circle cx="995.7" cy="988.6" r="4.8"/><circle cx="995.1" cy="990.9" r="4.8"/><circle cx="995.5" cy="993.2" r="4.8"/><circle cx="994.6" cy="995.4" r="4.8"/><circle cx="994.3" cy="997.7" r="4.8"/><circle cx="996.4" cy="1028.3" r="4.8"/><circle cx="995.4" cy="917.7" r="4.8"/><circle cx="1036.6" cy="903.5" r="4.8"/><circle cx="1036.9" cy="778.1" r="4.8"/><circle cx="1036.7" cy="814.3" r="4.8"/><circle cx="1037.6" cy="821.0" r="4.8"/><circle cx="1036.5" cy="830.0" r="4.8"/><circle cx="1037.4" cy="846.0" r="4.8"/><circle cx="1037.3" cy="848.2" r="4.8"/><circle cx="1036.0" cy="850.5" r="4.8"/><circle cx="1036.1" cy="852.8" r="4.8"/><circle cx="1036.1" cy="855.0" r="4.8"/><circle cx="1036.0" cy="857.2" r="4.8"/><circle cx="1036.8" cy="859.5" r="4.8"/><circle cx="1036.1" cy="861.8" r="4.8"/><circle cx="1036.4" cy="864.0" r="4.8"/><circle cx="1035.8" cy="866.2" r="4.8"/><circle cx="1037.5" cy="868.5" r="4.8"/><circle cx="1036.3" cy="870.8" r="4.8"/><circle cx="1036.5" cy="873.0" r="4.8"/><circle cx="1036.8" cy="875.2" r="4.8"/><circle cx="1037.5" cy="877.5" r="4.8"/><circle cx="1036.4" cy="879.8" r="4.8"/><circle cx="1037.5" cy="882.0" r="4.8"/><circle cx="1036.6" cy="891.0" r="4.8"/><circle cx="1036.7" cy="893.2" r="4.8"/><circle cx="1036.7" cy="895.5" r="4.8"/><circle cx="1035.5" cy="897.8" r="4.8"/><circle cx="1036.5" cy="900.0" r="4.8"/><circle cx="1035.9" cy="902.2" r="4.8"/><circle cx="1035.5" cy="904.5" r="4.8"/><circle cx="1037.3" cy="906.8" r="4.8"/><circle cx="1035.9" cy="909.0" r="4.8"/><circle cx="1039.0" cy="921.0" r="4.8"/><circle cx="1039.6" cy="923.2" r="4.8"/><circle cx="1039.2" cy="925.4" r="4.8"/><circle cx="1038.7" cy="927.6" r="4.8"/><circle cx="1039.1" cy="929.8" r="4.8"/><circle cx="1039.2" cy="931.9" r="4.8"/><circle cx="1039.7" cy="934.1" r="4.8"/><circle cx="1038.2" cy="936.3" r="4.8"/><circle cx="1039.2" cy="938.5" r="4.8"/><circle cx="1038.5" cy="940.7" r="4.8"/><circle cx="1038.6" cy="942.9" r="4.8"/><circle cx="1039.7" cy="945.1" r="4.8"/><circle cx="1039.1" cy="947.2" r="4.8"/><circle cx="1039.2" cy="949.4" r="4.8"/><circle cx="1039.7" cy="951.6" r="4.8"/><circle cx="1040.0" cy="953.8" r="4.8"/><circle cx="1039.0" cy="956.0" r="4.8"/><circle cx="1039.3" cy="958.2" r="4.8"/><circle cx="1039.1" cy="960.4" r="4.8"/><circle cx="1039.1" cy="962.6" r="4.8"/><circle cx="1039.5" cy="964.8" r="4.8"/><circle cx="1039.0" cy="966.9" r="4.8"/><circle cx="1039.2" cy="969.1" r="4.8"/><circle cx="1039.1" cy="971.3" r="4.8"/><circle cx="1040.1" cy="973.5" r="4.8"/><circle cx="1039.5" cy="975.7" r="4.8"/><circle cx="1039.9" cy="977.9" r="4.8"/><circle cx="1040.1" cy="980.1" r="4.8"/><circle cx="1038.6" cy="982.2" r="4.8"/><circle cx="1039.2" cy="984.4" r="4.8"/><circle cx="1040.1" cy="986.6" r="4.8"/><circle cx="1039.8" cy="988.8" r="4.8"/><circle cx="1038.3" cy="991.0" r="4.8"/><circle cx="1038.3" cy="1003.4" r="4.8"/><circle cx="1039.0" cy="1017.0" r="4.8"/><circle cx="1038.2" cy="1034.0" r="4.8"/><circle cx="1036.6" cy="1034.0" r="4.8"/><circle cx="1520.2" cy="1101.8" r="4.8"/><circle cx="1524.0" cy="742.0" r="4.8"/><circle cx="1524.0" cy="781.0" r="4.8"/><circle cx="1524.0" cy="800.6" r="4.8"/><circle cx="1524.0" cy="828.1" r="4.8"/><circle cx="1524.0" cy="837.8" r="4.8"/><circle cx="1524.0" cy="840.0" r="4.8"/><circle cx="1524.0" cy="842.2" r="4.8"/><circle cx="1524.0" cy="844.4" r="4.8"/><circle cx="1524.0" cy="846.6" r="4.8"/><circle cx="1524.0" cy="848.8" r="4.8"/><circle cx="1524.0" cy="851.0" r="4.8"/><circle cx="1524.0" cy="853.2" r="4.8"/><circle cx="1524.0" cy="855.4" r="4.8"/><circle cx="1524.0" cy="857.6" r="4.8"/><circle cx="1524.0" cy="859.8" r="4.8"/><circle cx="1524.0" cy="862.0" r="4.8"/><circle cx="1524.0" cy="864.2" r="4.8"/><circle cx="1524.0" cy="866.4" r="4.8"/><circle cx="1524.0" cy="868.6" r="4.8"/><circle cx="1524.0" cy="870.8" r="4.8"/><circle cx="1524.0" cy="876.0" r="4.8"/><circle cx="1524.0" cy="878.2" r="4.8"/><circle cx="1524.0" cy="880.3" r="4.8"/><circle cx="1524.0" cy="882.5" r="4.8"/><circle cx="1524.0" cy="884.6" r="4.8"/><circle cx="1524.0" cy="886.8" r="4.8"/><circle cx="1524.0" cy="888.9" r="4.8"/><circle cx="1524.0" cy="891.1" r="4.8"/><circle cx="1524.0" cy="893.2" r="4.8"/><circle cx="1524.0" cy="895.4" r="4.8"/><circle cx="1524.0" cy="897.6" r="4.8"/><circle cx="1524.0" cy="899.7" r="4.8"/><circle cx="1524.0" cy="901.9" r="4.8"/><circle cx="1524.0" cy="904.0" r="4.8"/><circle cx="1524.0" cy="906.2" r="4.8"/><circle cx="1524.0" cy="908.3" r="4.8"/><circle cx="1524.0" cy="910.5" r="4.8"/><circle cx="1524.0" cy="912.6" r="4.8"/><circle cx="1524.0" cy="914.8" r="4.8"/><circle cx="1524.0" cy="923.0" r="4.8"/><circle cx="1524.0" cy="925.2" r="4.8"/><circle cx="1524.0" cy="927.4" r="4.8"/><circle cx="1524.0" cy="929.5" r="4.8"/><circle cx="1524.0" cy="931.7" r="4.8"/><circle cx="1524.0" cy="933.9" r="4.8"/><circle cx="1524.0" cy="936.1" r="4.8"/><circle cx="1524.0" cy="938.2" r="4.8"/><circle cx="1524.0" cy="940.4" r="4.8"/><circle cx="1524.0" cy="942.6" r="4.8"/><circle cx="1524.0" cy="944.8" r="4.8"/><circle cx="1524.0" cy="946.9" r="4.8"/><circle cx="1524.0" cy="949.1" r="4.8"/><circle cx="1524.0" cy="951.3" r="4.8"/><circle cx="1524.0" cy="953.5" r="4.8"/><circle cx="1524.0" cy="955.6" r="4.8"/><circle cx="1524.0" cy="957.8" r="4.8"/><circle cx="1524.0" cy="960.0" r="4.8"/><circle cx="1524.0" cy="962.2" r="4.8"/><circle cx="1524.0" cy="964.4" r="4.8"/><circle cx="1524.0" cy="966.5" r="4.8"/><circle cx="1524.0" cy="968.7" r="4.8"/><circle cx="1524.0" cy="970.9" r="4.8"/><circle cx="1524.0" cy="973.1" r="4.8"/><circle cx="1524.0" cy="975.2" r="4.8"/><circle cx="1524.0" cy="977.4" r="4.8"/><circle cx="1524.0" cy="979.6" r="4.8"/><circle cx="1524.0" cy="981.8" r="4.8"/><circle cx="1524.0" cy="983.9" r="4.8"/><circle cx="1524.0" cy="986.1" r="4.8"/><circle cx="1524.0" cy="988.3" r="4.8"/><circle cx="1524.0" cy="990.5" r="4.8"/><circle cx="1524.0" cy="992.6" r="4.8"/><circle cx="1524.0" cy="994.8" r="4.8"/><circle cx="1524.0" cy="997.0" r="4.8"/><circle cx="1524.0" cy="1002.8" r="4.8"/><circle cx="1524.0" cy="1005.0" r="4.8"/><circle cx="1524.0" cy="1007.2" r="4.8"/><circle cx="1524.0" cy="1009.4" r="4.8"/><circle cx="1524.0" cy="1011.6" r="4.8"/><circle cx="1524.0" cy="1013.8" r="4.8"/><circle cx="1524.0" cy="1016.0" r="4.8"/><circle cx="1524.0" cy="1018.2" r="4.8"/><circle cx="1524.0" cy="1020.4" r="4.8"/><circle cx="1524.0" cy="1022.6" r="4.8"/><circle cx="1524.0" cy="1024.8" r="4.8"/><circle cx="1524.0" cy="1027.0" r="4.8"/><circle cx="1524.0" cy="1029.2" r="4.8"/><circle cx="1524.0" cy="1031.4" r="4.8"/><circle cx="1524.0" cy="1033.6" r="4.8"/><circle cx="1524.0" cy="1035.8" r="4.8"/><circle cx="1524.0" cy="1075.6" r="4.8"/><circle cx="1524.0" cy="1084.0" r="4.8"/></g></g>
<line x1="118.90" y1="664.80" x2="118.90" y2="1132.50" stroke="#383838" stroke-width="1.6"/>
<line x1="118.10" y1="1131.70" x2="1722.40" y2="1131.70" stroke="#383838" stroke-width="1.6"/>
<rect x="470.40" y="89.80" width="290.00" height="149.70" fill="#f3f3f4" fill-opacity="0.955"/>
<rect x="492.40" y="111.50" width="18.80" height="18.60" fill="#636efa" />
<rect x="492.40" y="157.50" width="18.80" height="18.60" fill="#00cc96" />
<rect x="492.40" y="203.50" width="18.80" height="18.60" fill="#ffa15a" />
<rect x="1432.00" y="89.80" width="290.40" height="149.70" fill="#f3f3f4" fill-opacity="0.955"/>
<rect x="1454.00" y="111.50" width="18.80" height="18.60" fill="#636efa" />
<rect x="1454.00" y="157.50" width="18.80" height="18.60" fill="#00cc96" />
<rect x="1454.00" y="203.50" width="18.80" height="18.60" fill="#ffa15a" />
<rect x="1432.00" y="638.20" width="290.40" height="150.40" fill="#f3f3f4" fill-opacity="0.955"/>
<line x1="1440.60" y1="668.20" x2="1486.70" y2="668.20" stroke="#c4c4c4" stroke-width="2.6"/>
<circle cx="1463.70" cy="668.20" r="5.3" fill="#636efa"/>
<line x1="1440.60" y1="714.20" x2="1486.70" y2="714.20" stroke="#c4c4c4" stroke-width="2.6"/>
<circle cx="1463.70" cy="714.20" r="5.3" fill="#00cc96"/>
<line x1="1440.60" y1="760.20" x2="1486.70" y2="760.20" stroke="#c4c4c4" stroke-width="2.6"/>
<circle cx="1463.70" cy="760.20" r="5.3" fill="#ffa15a"/>
<g fill="#243552" font-family="DejaVu Sans, Verdana, sans-serif">
<text transform="translate(233.07,27.67) scale(1.5183,1.0808)" font-size="31.5"><tspan stroke="#243552" stroke-width="0.6" stroke-linejoin="round">(</tspan></text>
<text transform="translate(250.40,25.70) scale(1.0831,0.9695)" font-size="31.5"><tspan stroke="#243552" stroke-width="1.9" stroke-linejoin="round">A</tspan></text>
<text transform="translate(272.46,27.67) scale(1.6839,1.0808)" font-size="31.5"><tspan stroke="#243552" stroke-width="0.6" stroke-linejoin="round">)</tspan></text>
<text transform="translate(1198.73,27.36) scale(1.5735,1.0594)" font-size="31.5"><tspan stroke="#243552" stroke-width="0.6" stroke-linejoin="round">(</tspan></text>
<text transform="translate(1216.47,24.91) scale(1.1740,0.9312)" font-size="31.5"><tspan stroke="#243552" stroke-width="1.9" stroke-linejoin="round">B</tspan></text>
<text transform="translate(1239.60,27.36) scale(1.6287,1.0594)" font-size="31.5"><tspan stroke="#243552" stroke-width="0.6" stroke-linejoin="round">)</tspan></text>
<text transform="translate(818.47,658.06) scale(1.5183,1.0844)" font-size="31.5"><tspan stroke="#243552" stroke-width="0.6" stroke-linejoin="round">(</tspan></text>
<text transform="translate(836.48,655.70) scale(1.0317,0.9524)" font-size="31.5"><tspan stroke="#243552" stroke-width="1.9" stroke-linejoin="round">C</tspan></text>
<text transform="translate(858.31,658.06) scale(1.5045,1.0844)" font-size="31.5"><tspan stroke="#243552" stroke-width="0.6" stroke-linejoin="round">)</tspan></text>
<text transform="translate(305.50,26.00) scale(0.9966,1)" font-size="31.5">Time between chunks</text>
<text transform="translate(1269.48,25.80) scale(0.9990,1)" font-size="31.5"># samples per chunk</text>
<text transform="translate(886.54,655.50) scale(1.0040,1)" font-size="31.5">Example</text>
<text transform="translate(386.63,596.00) scale(1.0528,1)" font-size="37.5">dt [s]</text>
<text transform="translate(1302.28,596.00) scale(1.0059,1)" font-size="37.5"># samples</text>
<text transform="translate(844.93,1226.40) scale(1.0362,1)" font-size="37.5">time [s]</text>
<text transform="translate(31.70,386.78) rotate(-90) scale(1.0595,1)" font-size="37.5">% of chunks</text>
<text transform="translate(964.90,396.61) rotate(-90) scale(1.0251,1)" font-size="37.5">% of samples</text>
<text transform="translate(31.50,1087.64) rotate(-90) scale(1.0294,1)" font-size="37.5">z-scaled signal [uV]</text>
<text transform="translate(108.57,540.40) scale(1.0100,1)" font-size="31.5">0</text>
<text transform="translate(225.75,540.40) scale(1.0350,1)" font-size="31.5">0.01</text>
<text transform="translate(368.61,540.40) scale(1.0350,1)" font-size="31.5">0.02</text>
<text transform="translate(511.14,540.40) scale(1.0350,1)" font-size="31.5">0.03</text>
<text transform="translate(653.68,540.40) scale(1.0350,1)" font-size="31.5">0.04</text>
<text transform="translate(91.07,512.80) scale(1.0100,1)" font-size="31.5">0</text>
<text transform="translate(71.02,423.42) scale(1.0100,1)" font-size="31.5">20</text>
<text transform="translate(71.02,334.04) scale(1.0100,1)" font-size="31.5">40</text>
<text transform="translate(71.02,244.66) scale(1.0100,1)" font-size="31.5">60</text>
<text transform="translate(71.02,155.28) scale(1.0100,1)" font-size="31.5">80</text>
<text transform="translate(50.66,65.90) scale(1.0100,1)" font-size="31.5">100</text>
<text transform="translate(1071.82,540.40) scale(1.0100,1)" font-size="31.5">0</text>
<text transform="translate(1196.14,540.40) scale(1.0100,1)" font-size="31.5">50</text>
<text transform="translate(1318.88,540.40) scale(1.0100,1)" font-size="31.5">100</text>
<text transform="translate(1452.98,540.40) scale(1.0100,1)" font-size="31.5">150</text>
<text transform="translate(1586.62,540.40) scale(1.0100,1)" font-size="31.5">200</text>
<text transform="translate(1052.37,512.70) scale(1.0100,1)" font-size="31.5">0</text>
<text transform="translate(1032.32,424.14) scale(1.0100,1)" font-size="31.5">20</text>
<text transform="translate(1032.32,335.58) scale(1.0100,1)" font-size="31.5">40</text>
<text transform="translate(1032.32,247.02) scale(1.0100,1)" font-size="31.5">60</text>
<text transform="translate(1032.32,158.46) scale(1.0100,1)" font-size="31.5">80</text>
<text transform="translate(1011.96,69.90) scale(1.0100,1)" font-size="31.5">100</text>
<text transform="translate(194.12,1170.60) scale(1.0100,1)" font-size="31.5">0</text>
<text transform="translate(336.80,1170.60) scale(1.0350,1)" font-size="31.5">0.005</text>
<text transform="translate(526.36,1170.60) scale(1.0350,1)" font-size="31.5">0.01</text>
<text transform="translate(694.73,1170.60) scale(1.0350,1)" font-size="31.5">0.015</text>
<text transform="translate(884.29,1170.60) scale(1.0350,1)" font-size="31.5">0.02</text>
<text transform="translate(1052.65,1170.60) scale(1.0350,1)" font-size="31.5">0.025</text>
<text transform="translate(1241.89,1170.60) scale(1.0350,1)" font-size="31.5">0.03</text>
<text transform="translate(1410.58,1170.60) scale(1.0350,1)" font-size="31.5">0.035</text>
<text transform="translate(1599.49,1170.60) scale(1.0350,1)" font-size="31.5">0.04</text>
<text transform="translate(91.58,712.16) scale(1.0100,1)" font-size="31.5">3</text>
<text transform="translate(92.22,780.64) scale(1.0100,1)" font-size="31.5">2</text>
<text transform="translate(92.22,849.12) scale(1.0100,1)" font-size="31.5">1</text>
<text transform="translate(91.27,917.60) scale(1.0100,1)" font-size="31.5">0</text>
<text transform="translate(65.50,986.08) scale(1.0100,1)" font-size="31.5">−1</text>
<text transform="translate(65.81,1054.56) scale(1.0100,1)" font-size="31.5">−2</text>
<text transform="translate(65.18,1123.04) scale(1.0100,1)" font-size="31.5">−3</text>
<text transform="translate(534.28,132.60) scale(1.0075,1)" font-size="31.5">Arduino Uno</text>
<text transform="translate(531.27,178.60) scale(1.0572,1)" font-size="31.5">BIC-EvalKit</text>
<text transform="translate(531.41,224.60) scale(1.0126,1)" font-size="31.5">Neuro Omega</text>
<text transform="translate(1495.88,132.60) scale(1.0075,1)" font-size="31.5">Arduino Uno</text>
<text transform="translate(1492.87,178.60) scale(1.0572,1)" font-size="31.5">BIC-EvalKit</text>
<text transform="translate(1493.01,224.60) scale(1.0126,1)" font-size="31.5">Neuro Omega</text>
<text transform="translate(1495.88,681.00) scale(1.0075,1)" font-size="31.5">Arduino Uno</text>
<text transform="translate(1492.87,727.00) scale(1.0572,1)" font-size="31.5">BIC-EvalKit</text>
<text transform="translate(1493.01,773.00) scale(1.0126,1)" font-size="31.5">Neuro Omega</text>
</g>
</svg></body></html>
